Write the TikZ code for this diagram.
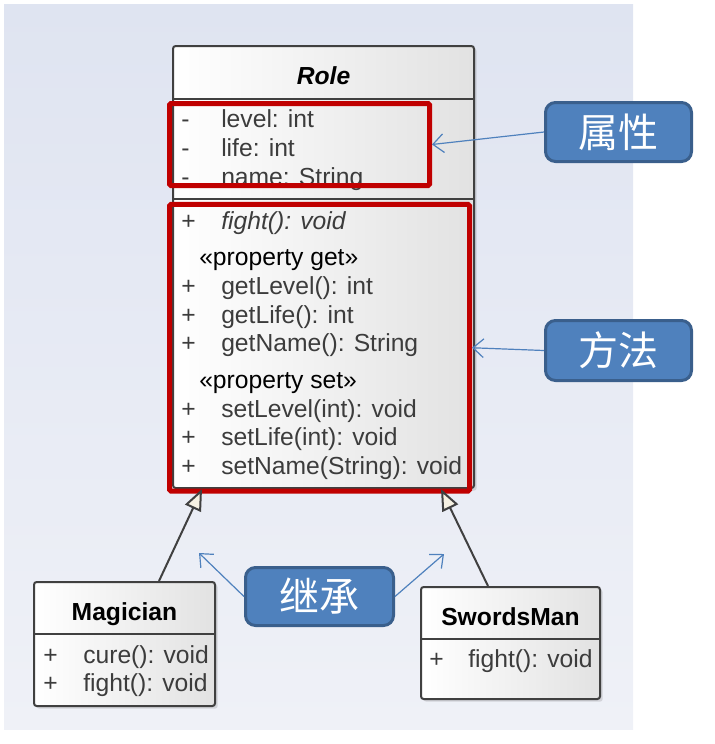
\documentclass[tikz,border=0pt]{standalone}
\usepackage{fontspec}
\setmainfont{Liberation Sans}
\newfontfamily\cjk{Noto Sans CJK SC}
\usetikzlibrary{arrows.meta,shadows,calc}
\definecolor{bgtop}{HTML}{DFE4F1}
\definecolor{bgbot}{HTML}{EFF1F7}
\definecolor{boxgrey}{HTML}{E2E2E2}
\definecolor{boxline}{HTML}{404040}
\definecolor{memcol}{HTML}{3C3C3C}
\definecolor{hired}{HTML}{C00000}
\definecolor{callfill}{HTML}{4F81BD}
\definecolor{callline}{HTML}{3A5F8C}
\definecolor{cream}{HTML}{F6F1E2}
\begin{document}
\begin{tikzpicture}[x=0.75pt,y=-0.75pt,
  umlbox/.style={draw=boxline, line width=1.5pt, rounded corners=2pt,
    left color=white, right color=boxgrey, inner sep=0pt,
    drop shadow={shadow xshift=2pt, shadow yshift=-2pt, opacity=0.25}},
  sepline/.style={draw=boxline, line width=1.4pt},
  mem/.style={font=\fontsize{18.5}{20}\selectfont, text=memcol, inner sep=0pt, anchor=base west},
  ttl/.style={font=\fontsize{18.5}{20}\selectfont\bfseries, text=black, inner sep=0pt, anchor=base},
  redbox/.style={draw=hired, line width=3.75pt, rounded corners=1pt, inner sep=0pt},
  callout/.style={draw=callline, fill=callfill, line width=2.25pt, rounded corners=7.5pt,
    text=white, font=\cjk\fontsize{30}{32}\selectfont, inner sep=0pt},
  pointer/.style={draw=callfill, line width=0.9pt, -{Straight Barb[length=8pt,width=14pt]}},
  gen/.style={draw=boxline, line width=1.5pt, -{Triangle[length=16pt,width=13pt,fill=cream]}}
]
\useasboundingbox (0,0) rectangle (715,744);
\shade[top color=bgtop, bottom color=bgbot] (4,4) rectangle (633,729);

% Role class
\node[umlbox, minimum width=225.75pt, minimum height=331.5pt] (role) at (323.5,267) {};
\draw[sepline] (role.west |- 0,99) -- (role.east |- 0,99);
\draw[sepline] (role.west |- 0,199) -- (role.east |- 0,199);
\node[ttl, font=\fontsize{18.5}{20}\selectfont\bfseries\itshape] (roleT) at (323.5,84) {Role};
\node[mem] (a1s) at (181,127) {-};
\node[mem] (a1) at (221,127) {level: int};
\node[mem] (a2s) at (181,156) {-};
\node[mem] (a2) at (221,156) {life: int};
\node[mem] (a3s) at (181,185) {-};
\node[mem] (a3) at (221,185) {name: String};
\node[mem] (m1s) at (181,229) {+};
\node[mem, font=\fontsize{18.5}{20}\selectfont\itshape] (m1) at (221,229) {fight(): void};
\node[mem, text=black] (pg) at (199,265) {«property get»};
\node[mem] (m2s) at (181,294) {+};
\node[mem] (m2) at (221,294) {getLevel(): int};
\node[mem] (m3s) at (181,323) {+};
\node[mem] (m3) at (221,323) {getLife(): int};
\node[mem] (m4s) at (181,351) {+};
\node[mem] (m4) at (221,351) {getName(): String};
\node[mem, text=black] (ps) at (199,388) {«property set»};
\node[mem] (m5s) at (181,417) {+};
\node[mem] (m5) at (221,417) {setLevel(int): void};
\node[mem] (m6s) at (181,445) {+};
\node[mem] (m6) at (221,445) {setLife(int): void};
\node[mem] (m7s) at (181,474) {+};
\node[mem] (m7) at (221,474) {setName(String): void};

% highlight boxes
\node[redbox, minimum width=195pt, minimum height=61.5pt] (attrbox) at (299.5,144.5) {};
\node[redbox, minimum width=225pt, minimum height=214.9pt] (methbox) at (319.5,347.75) {};

% Magician
\node[umlbox, minimum width=135.75pt, minimum height=93pt] (mag) at (124.5,644) {};
\draw[sepline] (mag.west |- 0,634) -- (mag.east |- 0,634);
\node[ttl] (magT) at (124.5,620) {Magician};
\node[mem] (g1s) at (43,663) {+};
\node[mem] (g1) at (83,663) {cure(): void};
\node[mem] (g2s) at (43,691) {+};
\node[mem] (g2) at (83,691) {fight(): void};

% SwordsMan
\node[umlbox, minimum width=134.25pt, minimum height=84pt] (sw) at (510.5,643) {};
\draw[sepline] (sw.west |- 0,639) -- (sw.east |- 0,639);
\node[ttl] (swT) at (510.5,625) {SwordsMan};
\node[mem] (s1s) at (429,667) {+};
\node[mem] (s1) at (468,667) {fight(): void};

% generalizations
\draw[gen] ($(mag.north)+(34.5,0)$) -- ($(role.south west)+(30,0)$);
\draw[gen] ($(sw.north)+(-22.5,0)$) -- ($(role.south west)+(269,0)$);

% callouts
\node[callout, minimum width=109.5pt, minimum height=44.25pt] (cA) at (618.5,132) {属性};
\node[callout, minimum width=109.5pt, minimum height=45pt] (cM) at (618.5,350.5) {方法};
\node[callout, minimum width=111pt, minimum height=43.5pt] (cI) at (319.5,596.5) {继承};
\coordinate (iL) at (199,553);
\coordinate (iR) at (444,554);
\draw[pointer] (cA.west) -- (attrbox.east);
\draw[pointer] (cM.west) -- (methbox.east);
\draw[pointer] (cI.west) -- (iL);
\draw[pointer] (cI.east) -- (iR);
\end{tikzpicture}
\end{document}
